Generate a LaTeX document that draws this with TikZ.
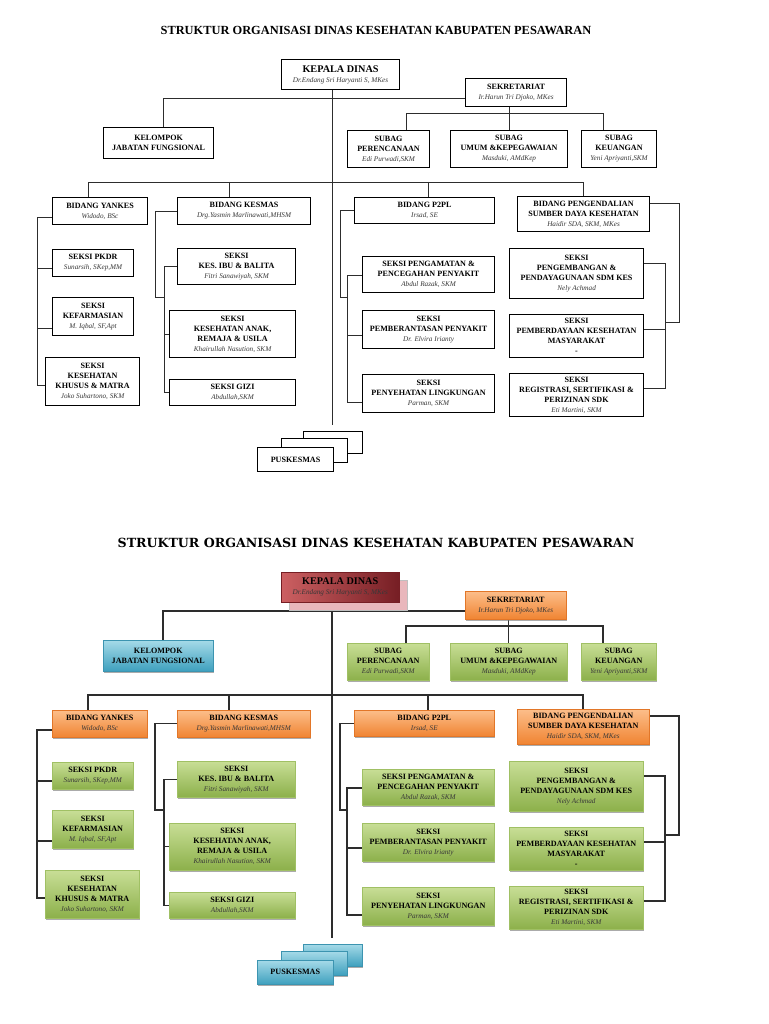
\documentclass[tikz,border=0pt]{standalone}
\usepackage{fontspec}
\setmainfont{Liberation Serif}
\newfontfamily\titlefont{DejaVu Serif}
\usetikzlibrary{shadows,backgrounds,positioning}
\definecolor{LineGrey}{RGB}{45,45,45}
\definecolor{GreenTop}{RGB}{200,222,150}
\definecolor{GreenBottom}{RGB}{140,176,74}
\definecolor{GreenEdge}{RGB}{160,192,100}
\definecolor{OrangeTop}{RGB}{252,190,138}
\definecolor{OrangeBottom}{RGB}{240,132,50}
\definecolor{OrangeEdge}{RGB}{226,118,40}
\definecolor{BlueTop}{RGB}{165,218,232}
\definecolor{BlueBottom}{RGB}{62,160,190}
\definecolor{BlueEdge}{RGB}{60,148,176}
\definecolor{RedLight}{RGB}{204,96,98}
\definecolor{RedDark}{RGB}{118,30,36}
\definecolor{PinkShadow}{RGB}{233,183,188}

\newcommand{\nm}[1]{{\fontsize{7.2}{9}\selectfont\mdseries\itshape\color{black!78}#1}}

\tikzset{
  orgbox/.style={anchor=north west, align=center, inner sep=1pt, font=\fontsize{8.1}{10}\selectfont\bfseries},
  plainbox/.style={orgbox, draw=black, line width=1.1pt, fill=white},
  greenbox/.style={orgbox, draw=GreenEdge, line width=0.5pt, top color=GreenTop, bottom color=GreenBottom,
    drop shadow={shadow xshift=1.2pt, shadow yshift=-1.6pt, opacity=0.6, fill=black!55}},
  orangebox/.style={orgbox, draw=OrangeEdge, line width=0.5pt, top color=OrangeTop, bottom color=OrangeBottom,
    drop shadow={shadow xshift=1.2pt, shadow yshift=-1.6pt, opacity=0.6, fill=black!55}},
  bluebox/.style={orgbox, draw=BlueEdge, line width=0.5pt, top color=BlueTop, bottom color=BlueBottom,
    drop shadow={shadow xshift=1.2pt, shadow yshift=-1.6pt, opacity=0.6, fill=black!55}},
  redbox/.style={orgbox, draw=RedDark, line width=0.5pt, left color=RedLight, right color=RedDark,
    drop shadow={shadow xshift=7.5pt, shadow yshift=-8pt, opacity=1, fill=PinkShadow, draw=black!25}},
  link/.style={draw=LineGrey, line width=0.9pt}
}

% one chart, #1 = prefix of the node names
\newcommand{\orgchart}[1]{%
  \node[headbox, minimum width=118, minimum height=30] (#1kepala) at (281,59)
    {{\fontsize{10.2}{12}\selectfont KEPALA DINAS}\\\nm{Dr.Endang Sri Haryanti S, MKes}};
  \node[unitbox, minimum width=101, minimum height=28] (#1sekr) at (465,78)
    {SEKRETARIAT\\\nm{Ir.Harun Tri Djoko, MKes}};
  \node[sidebox, minimum width=110, minimum height=31] (#1kjf) at (103,127)
    {KELOMPOK\\JABATAN FUNGSIONAL};
  \node[seksibox, minimum width=82, minimum height=37] (#1sub1) at (347,130)
    {SUBAG\\PERENCANAAN\\\nm{Edi Purwadi,SKM}};
  \node[seksibox, minimum width=117, minimum height=37] (#1sub2) at (450,130)
    {SUBAG\\UMUM \&KEPEGAWAIAN\\\nm{Masduki, AMdKep}};
  \node[seksibox, minimum width=75, minimum height=37] (#1sub3) at (581,130)
    {SUBAG\\KEUANGAN\\\nm{Yeni Apriyanti,SKM}};
  % bidang
  \node[unitbox, minimum width=95, minimum height=27] (#1yankes) at (52,197)
    {BIDANG YANKES\\\nm{Widodo, BSc}};
  \node[unitbox, minimum width=133, minimum height=27] (#1kesmas) at (177,197)
    {BIDANG KESMAS\\\nm{Drg.Yasmin Marlinawati,MHSM}};
  \node[unitbox, minimum width=140, minimum height=26] (#1p2pl) at (354,197)
    {BIDANG P2PL\\\nm{Irsad, SE}};
  \node[unitbox, minimum width=132, minimum height=35] (#1pengend) at (517,196)
    {BIDANG PENGENDALIAN\\SUMBER DAYA KESEHATAN\\\nm{Haidir SDA, SKM, MKes}};
  % seksi
  \node[seksibox, minimum width=81, minimum height=27] (#1pkdr) at (52,249)
    {SEKSI PKDR\\\nm{Sunarsih, SKep,MM}};
  \node[seksibox, minimum width=81, minimum height=38] (#1kefarm) at (52,297)
    {SEKSI\\KEFARMASIAN\\\nm{M. Iqbal, SF,Apt}};
  \node[seksibox, minimum width=94, minimum height=48] (#1khusus) at (45,357)
    {SEKSI\\KESEHATAN\\KHUSUS \& MATRA\\\nm{Joko Suhartono, SKM}};
  \node[seksibox, minimum width=118, minimum height=36] (#1kesibu) at (177,248)
    {SEKSI\\KES. IBU \& BALITA\\\nm{Fitri Sanawiyah, SKM}};
  \node[seksibox, minimum width=126, minimum height=47] (#1anak) at (169,310)
    {SEKSI\\KESEHATAN ANAK,\\REMAJA \& USILA\\\nm{Khairullah Nasution, SKM}};
  \node[seksibox, minimum width=126, minimum height=26] (#1gizi) at (169,379)
    {SEKSI GIZI\\\nm{Abdullah,SKM}};
  \node[seksibox, minimum width=132, minimum height=36] (#1amat) at (362,256)
    {SEKSI PENGAMATAN \&\\PENCEGAHAN PENYAKIT\\\nm{Abdul Razak, SKM}};
  \node[seksibox, minimum width=132, minimum height=38] (#1brantas) at (362,310)
    {SEKSI\\PEMBERANTASAN PENYAKIT\\\nm{Dr. Elvira Irianty}};
  \node[seksibox, minimum width=132, minimum height=38] (#1sehat) at (362,374)
    {SEKSI\\PENYEHATAN LINGKUNGAN\\\nm{Parman, SKM}};
  \node[seksibox, minimum width=134, minimum height=50] (#1kembang) at (509,248)
    {SEKSI\\PENGEMBANGAN \&\\PENDAYAGUNAAN SDM KES\\\nm{Nely Achmad}};
  \node[seksibox, minimum width=134, minimum height=43] (#1daya) at (509,314)
    {SEKSI\\PEMBERDAYAAN KESEHATAN\\MASYARAKAT\\-};
  \node[seksibox, minimum width=134, minimum height=43] (#1regis) at (509,373)
    {SEKSI\\REGISTRASI, SERTIFIKASI \&\\PERIZINAN SDK\\\nm{Eti Martini, SKM}};
  % puskesmas
  \node[sidebox, minimum width=59, minimum height=22] (#1pusk3) at (303,431) {};
  \node[sidebox, minimum width=66, minimum height=24] (#1pusk2) at (281,438) {};
  \node[sidebox, minimum width=76, minimum height=24] (#1pusk1) at (257,447) {PUSKESMAS};

  \begin{pgfonlayer}{background}
    \coordinate (#1spine) at (332,425);
    \draw[link] (#1spine |- #1kepala.south) -- (#1spine);
    \coordinate (#1bus1) at (163,98);
    \draw[link] (#1kjf.north -| #1bus1) |- (#1sekr.west |- #1bus1);
    \coordinate (#1bus2a) at (406,113);
    \coordinate (#1bus2b) at (603,113);
    \draw[link] (#1sub1.north -| #1bus2a) -- (#1bus2a) -- (#1bus2b) -- (#1sub3.north -| #1bus2b);
    \draw[link] (#1sub2.north) -- (#1sub2.north |- #1sekr.south);
    \coordinate (#1bus3a) at (88,182);
    \coordinate (#1bus3b) at (583,182);
    \draw[link] (#1yankes.north -| #1bus3a) -- (#1bus3a) -- (#1bus3b) -- (#1pengend.north -| #1bus3b);
    \coordinate (#1dkm) at (229,182);
    \draw[link] (#1dkm) -- (#1kesmas.north -| #1dkm);
    \coordinate (#1dpp) at (428,182);
    \draw[link] (#1dpp) -- (#1p2pl.north -| #1dpp);
    % yankes
    \coordinate (#1ya0) at (37,217);
    \coordinate (#1ya1) at (37,268);
    \coordinate (#1ya2) at (37,328);
    \coordinate (#1ya3) at (37,385);
    \draw[link] (#1yankes.west |- #1ya0) -- (#1ya0) -- (#1ya3) -- (#1khusus.west |- #1ya3);
    \draw[link] (#1ya1) -- (#1pkdr.west |- #1ya1);
    \draw[link] (#1ya2) -- (#1kefarm.west |- #1ya2);
    % kesmas
    \coordinate (#1kmj) at (155,297);
    \coordinate (#1kmk) at (164,297);
    \draw[link] (#1kesmas.west) -| (#1kmj) -- (#1kmk);
    \draw[link] (#1kesibu.west) -| (#1gizi.west -| #1kmk) -- (#1gizi.west);
    \draw[link] (#1anak.west) -- (#1anak.west -| #1kmk);
    % p2pl
    \coordinate (#1ppj) at (340,297);
    \coordinate (#1pp1) at (347,275);
    \coordinate (#1pp2) at (347,335);
    \coordinate (#1pp3) at (347,402);
    \draw[link] (#1p2pl.west) -| (#1ppj) -- (#1ppj -| #1pp1);
    \draw[link] (#1amat.west |- #1pp1) -- (#1pp1) -- (#1pp3) -- (#1sehat.west |- #1pp3);
    \draw[link] (#1pp2) -- (#1brantas.west |- #1pp2);
    % pengendalian
    \coordinate (#1pg0) at (679,203);
    \coordinate (#1pgj) at (679,322);
    \coordinate (#1pg1) at (665,263);
    \coordinate (#1pg2) at (665,329);
    \coordinate (#1pg3) at (665,388);
    \draw[link] (#1pengend.east |- #1pg0) -- (#1pg0) -- (#1pgj) -- (#1pgj -| #1pg1);
    \draw[link] (#1kembang.east |- #1pg1) -- (#1pg1) -- (#1pg3) -- (#1regis.east |- #1pg3);
    \draw[link] (#1pg2) -- (#1daya.east |- #1pg2);
  \end{pgfonlayer}
}

\begin{document}
\begin{tikzpicture}[x=1pt, y=-1pt]
  \useasboundingbox (0,0) rectangle (768,1024);
  \begin{pgfonlayer}{background}
    \fill[white] (0,0) rectangle (768,1024);
  \end{pgfonlayer}

  \node[font=\fontsize{12.4}{14}\selectfont\bfseries] (atitle) at (376,30)
    {STRUKTUR ORGANISASI DINAS KESEHATAN KABUPATEN PESAWARAN};
  \begin{scope}[headbox/.style={plainbox}, unitbox/.style={plainbox},
      seksibox/.style={plainbox}, sidebox/.style={plainbox}]
    \orgchart{a}
  \end{scope}

  \node[font=\titlefont\fontsize{12.6}{14}\selectfont\bfseries] (btitle) at (376,543)
    {STRUKTUR ORGANISASI DINAS KESEHATAN KABUPATEN PESAWARAN};
  \begin{scope}[shift={(0,513)}, headbox/.style={redbox}, unitbox/.style={orangebox},
      seksibox/.style={greenbox}, sidebox/.style={bluebox},
      link/.style={draw=LineGrey, line width=1.1pt}]
    \orgchart{b}
  \end{scope}
\end{tikzpicture}
\end{document}
